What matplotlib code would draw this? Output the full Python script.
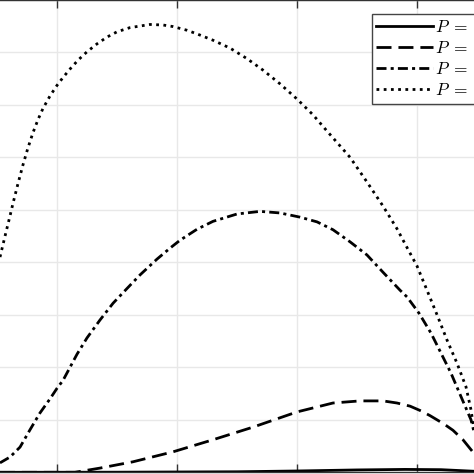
import numpy as np
import matplotlib
matplotlib.use('Agg')
import matplotlib.pyplot as plt

plt.rcParams['mathtext.fontset'] = 'cm'

# curvas (x, y en unidades de la grilla)
x_p1 = [0.525, 1.5, 2.5, 3.0, 3.5, 3.9, 4.2, 4.475]
y_p1 = [0.0, 0.002, 0.01, 0.025, 0.045, 0.055, 0.05, 0.02]

x_p2 = [0.525, 0.9, 1.15, 1.358, 1.633, 1.967, 2.30, 2.633, 3.0, 3.30,
        3.525, 3.717, 3.833, 3.942, 4.033, 4.108, 4.225, 4.30, 4.383, 4.475]
y_p2 = [0.0, 0.0, 0.0, 0.08, 0.20, 0.39, 0.62, 0.86, 1.15, 1.32,
        1.36, 1.36, 1.32, 1.26, 1.17, 1.08, 0.92, 0.80, 0.62, 0.36]

x_p3 = [0.525, 0.608, 0.692, 0.775, 0.858, 0.942, 1.0, 1.05, 1.167, 1.25,
        1.358, 1.467, 1.583, 1.692, 1.833, 1.942, 2.025, 2.167, 2.30, 2.50,
        2.692, 2.858, 3.025, 3.167, 3.30, 3.442, 3.583, 3.717, 3.858, 3.917,
        4.017, 4.117, 4.20, 4.283, 4.367, 4.45, 4.475]
y_p3 = [0.18, 0.29, 0.48, 0.81, 1.13, 1.40, 1.60, 1.75, 2.25, 2.56,
        2.90, 3.22, 3.50, 3.76, 4.06, 4.27, 4.42, 4.63, 4.78, 4.92,
        4.97, 4.94, 4.86, 4.77, 4.62, 4.39, 4.14, 3.81, 3.47, 3.34,
        3.03, 2.65, 2.27, 1.89, 1.44, 1.00, 0.77]

x_p4 = [0.525, 0.567, 0.608, 0.633, 0.675, 0.717, 0.758, 0.80, 0.842, 0.883,
        0.942, 1.0, 1.05, 1.108, 1.175, 1.25, 1.333, 1.417, 1.50, 1.608,
        1.775, 1.883, 1.967, 2.083, 2.167, 2.30, 2.442, 2.583, 2.717, 2.858,
        3.0, 3.133, 3.25, 3.442, 3.583, 3.717, 3.833, 3.917, 4.0, 4.083,
        4.167, 4.25, 4.333, 4.408, 4.45, 4.475]
y_p4 = [4.10, 4.50, 4.88, 5.12, 5.50, 5.86, 6.18, 6.47, 6.72, 6.93,
        7.17, 7.37, 7.52, 7.68, 7.85, 8.01, 8.16, 8.29, 8.39, 8.47,
        8.53, 8.52, 8.49, 8.42, 8.35, 8.23, 8.08, 7.88, 7.66, 7.40,
        7.11, 6.81, 6.50, 6.00, 5.53, 5.07, 4.64, 4.28, 3.93, 3.47,
        3.00, 2.52, 2.08, 1.63, 1.19, 0.81]

etiquetas = [r'$P \;=\; 0.1$', r'$P \;=\; 0.2$', r'$P \;=\; 0.5$', r'$P \;=\; 1.0$']

W, H = 474, 474
fig = plt.figure(figsize=(W / 100, H / 100), dpi=100)
# el eje se extiende fuera de la figura (recorte del original)
left = -63 / W
bottom = (H - 472.3) / H
width = 600 / W
height = 472.5 / H
ax = fig.add_axes([left, bottom, width, height])

lw = 2.0
ax.plot(x_p1, y_p1, color='black', lw=lw, linestyle='-', label=etiquetas[0])
ax.plot(x_p2, y_p2, color='black', lw=lw, linestyle=(0, (5.4, 2.5)), label=etiquetas[1])
ax.plot(x_p3, y_p3, color='black', lw=lw, linestyle=(0, (3.6, 1.5, 1.1, 1.5)), label=etiquetas[2])
ax.plot(x_p4, y_p4, color='black', lw=lw, linestyle=(0, (1, 1.6)), label=etiquetas[3])

ax.set_xlim(0, 5)
ax.set_ylim(0, 9)
ax.set_xticks(np.arange(0, 6, 1))
ax.set_yticks(np.arange(0, 10, 1))
ax.set_xticklabels([])
ax.set_yticklabels([])
ax.tick_params(direction='in', length=6, width=1, top=True, right=True,
               color='#333333')
ax.grid(True, color='#e8e8e8', linewidth=1)
ax.set_axisbelow(True)
for s in ax.spines.values():
    s.set_color('#333333')
    s.set_linewidth(1)

leg = ax.legend(loc='upper left', bbox_to_anchor=(372 / W, 1 - 14 / H),
                bbox_transform=fig.transFigure, borderaxespad=0,
                fontsize=12.5, handlelength=3.25, handletextpad=0.15,
                borderpad=0.25, labelspacing=0.17, fancybox=False,
                framealpha=1, edgecolor='#444444')
leg.get_frame().set_linewidth(1)

plt.savefig('out.png', dpi=100, facecolor='white')
plt.close()
